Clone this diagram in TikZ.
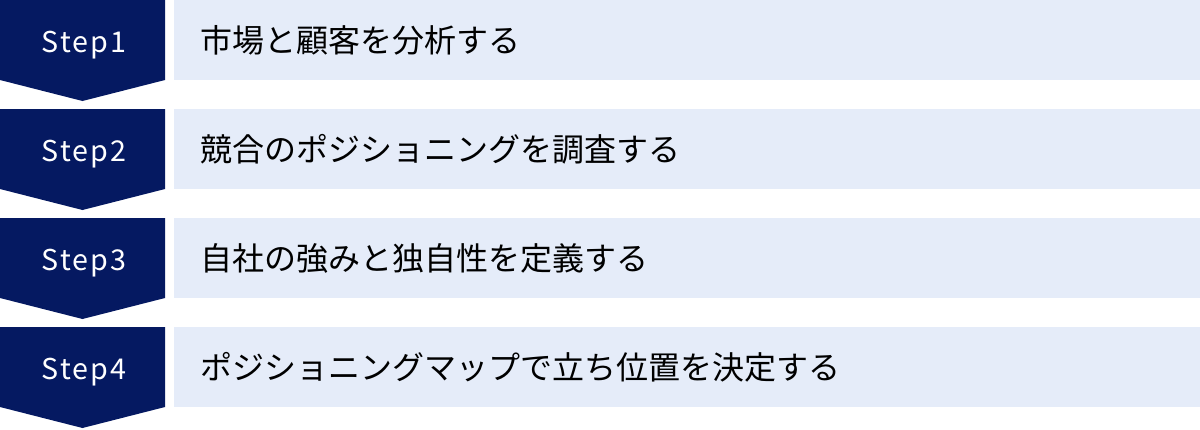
\documentclass[tikz,border=0pt]{standalone}
\usepackage{fontspec}
\setmainfont{Noto Sans CJK JP}

\definecolor{stepnavy}{RGB}{5,25,97}
\definecolor{rowblue}{RGB}{229,236,249}

\tikzset{
  steplabel/.style={text=white,anchor=base,inner sep=0.75pt,font=\fontsize{21.5}{26}\selectfont\addfontfeatures{LetterSpace=7}},
  rowtext/.style={anchor=west,inner sep=0.75pt,font=\fontsize{24}{29}\selectfont},
}

\begin{document}
\begin{tikzpicture}[x=0.75pt,y=0.75pt,yscale=-1,xscale=1]
\useasboundingbox (0,0) rectangle (1200,429);

\foreach \n/\txt [count=\i from 0] in {1/市場と顧客を分析する,2/競合のポジショニングを調査する,3/自社の強みと独自性を定義する,4/ポジショニングマップで立ち位置を決定する}{
  %Shape: chevron
  \fill [stepnavy] (0,109*\i) -- (165,109*\i) -- (165,109*\i+80) -- (82.5,109*\i+101) -- (0,109*\i+80) -- cycle ;
  %Shape: Rectangle
  \fill [rowblue] (174,109*\i) rectangle (1200,109*\i+80) ;
  % Text Node
  \node [steplabel] (step\n) at (84,109*\i+52) {Step\n};
  % Text Node
  \node [rowtext] (task\n) at (199,109*\i+40) {\txt};
}

\end{tikzpicture}
\end{document}
